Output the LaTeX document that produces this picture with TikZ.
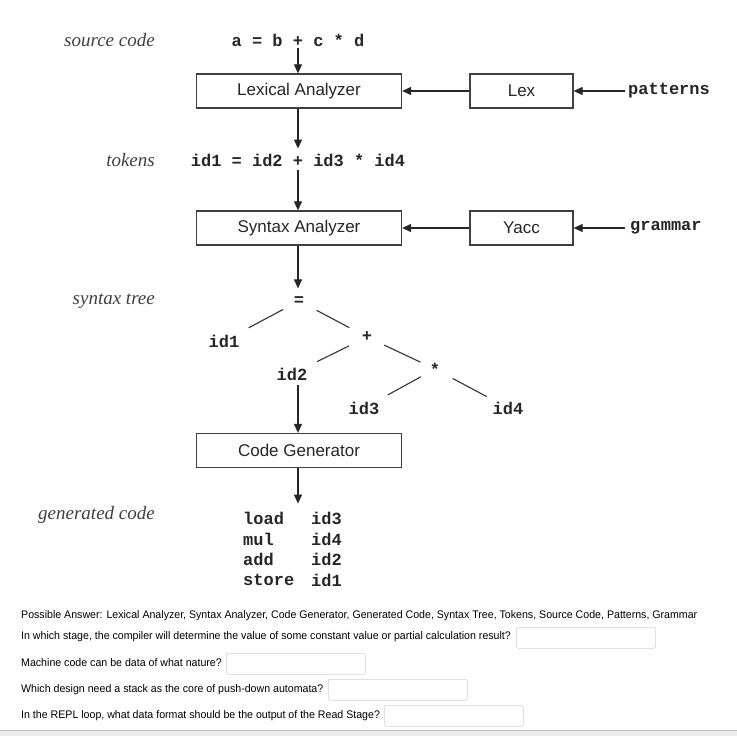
\documentclass[tikz,border=0pt]{standalone}
\usepackage{fontspec}
\setmainfont{Liberation Sans}
\setmonofont{Liberation Mono}
\newfontfamily\tms{Liberation Serif}
\usetikzlibrary{arrows.meta}
\tikzset{
 procbox/.style={draw=black!75, line width=1.3pt, minimum width=205pt, minimum height=34pt, font=\fontsize{17}{20}\selectfont, text=black!85, inner sep=0},
 toolbox/.style={procbox, minimum width=103pt},
 lbl/.style={font=\tms\itshape\fontsize{19}{22}\selectfont, text=black!75, anchor=east, inner sep=0},
 code/.style={font=\ttfamily\bfseries\fontsize{17}{20}\selectfont, text=black!85, inner sep=0},
 codel/.style={code, anchor=west},
 arr/.style={-{Triangle[length=9pt,width=8pt]}, line width=1.1pt, black!85},
 edge/.style={line width=1.1pt, black!80},
 qtext/.style={font=\fontsize{11}{13}\selectfont, anchor=west, inner sep=0, xscale=0.965},
 ansbox/.style={draw=black!18, rounded corners=1.5pt, line width=0.6pt, minimum width=139pt, minimum height=21pt, anchor=north west, inner sep=0}
}
\begin{document}
\begin{tikzpicture}[x=1pt,y=-1pt]
\useasboundingbox[fill=white] (0,0) rectangle (737,736);
% left labels
\node[lbl] (lsrc) at (155,40) {source code};
\node[lbl] (ltok) at (155,160) {tokens};
\node[lbl] (ltree) at (155,301) {syntax tree};
\node[lbl] (lgen) at (155,515) {generated code};
% main column
\node[code] (src) at (298,40) {a = b + c * d};
\node[procbox] (lexa) at (299,91) {Lexical Analyzer};
\node[toolbox] (lex) at (521.5,91) {Lex};
\node[code, anchor=west] (pat) at (628,91) {patterns};
\node[code] (tok) at (298,160) {id1 = id2 + id3 * id4};
\node[procbox] (syn) at (299,228) {Syntax Analyzer};
\node[toolbox] (yacc) at (521.5,228) {Yacc};
\node[code, anchor=west] (gram) at (630,228) {grammar};
% tree
\node[code] (eq) at (299,301) {=};
\node[code] (id1) at (224,341) {id1};
\node[code] (plus) at (367,337) {+};
\node[code] (id2) at (292,374) {id2};
\node[code] (star) at (435,369) {*};
\node[code] (id3) at (364,408) {id3};
\node[code] (id4) at (508,408) {id4};
\node[procbox] (cg) at (299,450.5) {Code Generator};
% generated code
\node[codel] (c1a) at (243,518) {load};
\node[codel] (c1b) at (311,518) {id3};
\node[codel] (c2a) at (243,539) {mul};
\node[codel] (c2b) at (311,539) {id4};
\node[codel] (c3a) at (243,559) {add};
\node[codel] (c3b) at (311,559) {id2};
\node[codel] (c4a) at (243,580) {store};
\node[codel] (c4b) at (311,580) {id1};
% arrows
\draw[arr] (src.south -| 298,0) ++(0,2) -- (lexa.north -| 298,0);
\draw[arr] (lexa.south -| 298,0) -- ([yshift=5pt]tok.north -| 298,0);
\draw[arr] ([yshift=-4pt]tok.south -| 298,0) -- (syn.north -| 298,0);
\draw[arr] (syn.south -| 298,0) -- ([yshift=8pt]eq.north -| 298,0);
\draw[arr] (lex.west) -- (lexa.east);
\draw[arr] (yacc.west) -- (syn.east);
\draw[arr, shorten <=3pt] (pat.west) -- (lex.east);
\draw[arr, shorten <=5pt] (gram.west) -- (yacc.east);
\draw[arr] ([yshift=-5pt]id2.south -| 298,0) -- (cg.north -| 298,0);
\draw[arr] (cg.south -| 298,0) -- ([yshift=8pt]c1a.north -| 298,0);
% tree edges
\draw[edge, shorten <=18pt, shorten >=28pt] (eq.center) -- (id1.center);
\draw[edge, shorten <=20pt, shorten >=20pt] (eq.center) -- (plus.center);
\draw[edge, shorten <=20pt, shorten >=28pt] (plus.center) -- (id2.center);
\draw[edge, shorten <=19pt, shorten >=16pt] (plus.center) -- (star.center);
\draw[edge, shorten <=16pt, shorten >=27pt] (star.center) -- (id3.center);
\draw[edge, shorten <=20pt, shorten >=24pt] (star.center) -- (id4.center);
% questions
\node[qtext] (q0) at (21,616) {Possible Answer: Lexical Analyzer, Syntax Analyzer, Code Generator, Generated Code, Syntax Tree, Tokens, Source Code, Patterns, Grammar};
\node[qtext] (q1) at (21,637) {In which stage, the compiler will determine the value of some constant value or partial calculation result?};
\node[ansbox] (a1) at (516,627) {};
\node[qtext] (q2) at (21,663) {Machine code can be data of what nature?};
\node[ansbox] (a2) at (226,653) {};
\node[qtext] (q3) at (21,690) {Which design need a stack as the core of push-down automata?};
\node[ansbox] (a3) at (328,679) {};
\node[qtext] (q4) at (21,716) {In the REPL loop, what data format should be the output of the Read Stage?};
\node[ansbox] (a4) at (384,705) {};
% bottom bar
\fill[black!8] (0,730) rectangle (737,736);
\draw[black!25, line width=1pt] (0,730) -- (737,730);
\end{tikzpicture}
\end{document}
